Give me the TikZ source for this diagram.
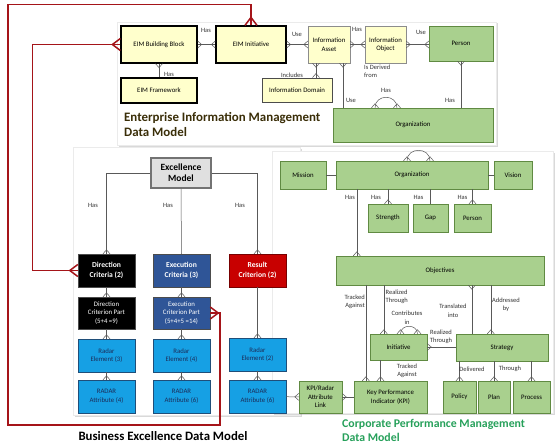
\documentclass[tikz,border=0pt]{standalone}
\usepackage{fontspec}
\setmainfont{Carlito}
\usetikzlibrary{arrows.meta,shadows}
\definecolor{cream}{RGB}{255,255,204}
\definecolor{grnfill}{RGB}{169,208,142}
\definecolor{grnline}{RGB}{96,138,66}
\definecolor{radarfill}{RGB}{22,160,228}
\definecolor{radarline}{RGB}{31,78,121}
\definecolor{navy}{RGB}{28,45,90}
\definecolor{exeblue}{RGB}{47,85,151}
\definecolor{resred}{RGB}{200,0,0}
\definecolor{linkred}{RGB}{165,20,25}
\definecolor{eimtitle}{RGB}{58,46,8}
\definecolor{cpmgreen}{RGB}{38,160,90}
% crow's foot tip
\pgfdeclarearrow{
  name = Crow,
  parameters = {\the\pgfarrowlength,\the\pgfarrowwidth},
  setup code = {
    \pgfarrowssettipend{0pt}
    \pgfarrowssetlineend{0pt}
    \pgfarrowssetbackend{-\pgfarrowlength}
    \pgfarrowshullpoint{0pt}{.5\pgfarrowwidth}
    \pgfarrowshullpoint{0pt}{-.5\pgfarrowwidth}
    \pgfarrowshullpoint{-\pgfarrowlength}{0pt}
    \pgfarrowssavethe\pgfarrowlength
    \pgfarrowssavethe\pgfarrowwidth
  },
  drawing code = {
    \pgfpathmoveto{\pgfqpoint{0pt}{.5\pgfarrowwidth}}
    \pgfpathlineto{\pgfqpoint{-\pgfarrowlength}{0pt}}
    \pgfpathlineto{\pgfqpoint{0pt}{-.5\pgfarrowwidth}}
    \pgfusepathqstroke
  },
  defaults = {length=4pt,width=7pt}
}
\tikzset{crow/.tip={Crow[length=4pt,width=7pt]},
  bigcrow/.tip={Crow[length=8pt,width=12pt]}}
\begin{document}
\begin{tikzpicture}[x=1pt,y=-1pt,font=\fontsize{6.8}{8.5}\selectfont]
        \tikzstyle{panel}=[fill=white,draw=black!8,drop shadow={shadow xshift=1.5pt,shadow yshift=-1.5pt,opacity=.3}]
        \tikzstyle{eim}=[rectangle,draw=black,line width=1.3pt,fill=cream,align=center]
        \tikzstyle{info}=[rectangle,draw=black!45,fill=cream,align=center]
        \tikzstyle{grn}=[rectangle,draw=grnline,fill=grnfill,align=center]
        \tikzstyle{crit}=[rectangle,draw=black!70,text=white,align=center,minimum width=57,minimum height=33,font=\bfseries\fontsize{7.6}{9.5}\selectfont]
        \tikzstyle{part}=[rectangle,draw=black!70,text=white,align=center,minimum width=57,minimum height=32,inner sep=1pt]
        \tikzstyle{radar}=[rectangle,draw=radarline,fill=radarfill,text=navy,align=center,minimum width=57,minimum height=33]
        \tikzstyle{lbl}=[font=\fontsize{6.5}{8.5}\selectfont,text=black!80,inner sep=0pt,align=center]
        \tikzstyle{rel}=[draw=black!65,line width=.5pt]
        \tikzstyle{redlink}=[draw=linkred,line width=1.5pt,bigcrow-bigcrow]
        \useasboundingbox (0,0) rectangle (560,444);
       \begin{scope}
         % panels
         \path[panel] (117,22) rectangle (496,145);
         \path[panel] (73,147) rectangle (300,415);
         \path[panel] (272,151) rectangle (553,413);
       \end{scope}
       \begin{scope}
         % enterprise information management
         \node [eim,minimum width=76,minimum height=37] (bb) at (159,44.5) {EIM Building Block};
         \node [eim,minimum width=70,minimum height=37] (ini) at (251,44.5) {EIM Initiative};
         \node [eim,minimum width=76,minimum height=25] (fw) at (159,90.5) {EIM Framework};
         \node [info,minimum width=42,minimum height=37,inner sep=1pt] (asset) at (329,44.5) {Information\\Asset};
         \node [info,minimum width=41,minimum height=37,inner sep=1pt] (obj) at (385.5,44.5) {Information\\Object};
         \node [grn,minimum width=64,minimum height=35] (per) at (461,43.5) {Person};
         \node [info,draw=black!70,line width=.9pt,minimum width=70,minimum height=24] (dom) at (297,90) {Information Domain};
         \node [grn,minimum width=160,minimum height=34] (org) at (413,125) {Organization};
         \draw[rel,crow-crow] (bb) -- (ini);
         \draw[rel,crow-crow] (ini) -- (asset);
         \draw[rel,crow-crow] (asset) -- (obj);
         \draw[rel,crow-crow] (obj.east) -- (obj.east -| per.west);
         \draw[rel,crow-] (bb) -- (fw);
         \draw[rel,crow-crow] ([xshift=-13pt]asset.south) -- ([xshift=-13pt]asset.south |- dom.north);
         \draw[rel,crow-] ([xshift=14pt]asset.south) -- ([xshift=14pt]asset.south |- org.north);
         \draw[rel,crow-] (per.south) -- (per.south |- org.north);
         \draw[rel,crow-crow] ([xshift=-38pt]org.north) .. controls +(0,-14) and +(0,-14) .. ([xshift=-16pt]org.north);
         \node [lbl] (h1) at (206,30) {Has};
         \node [lbl] (u1) at (297,34) {Use};
         \node [lbl] (h2) at (357,29) {Has};
         \node [lbl] (u2) at (421,32) {Use};
         \node [lbl] (h3) at (169,74) {Has};
         \node [lbl] (inc) at (292,75) {Includes};
         \node [lbl,anchor=west,align=left] (der) at (364,71.5) {Is Derived\\from};
         \node [lbl] (u3) at (351,100) {Use};
         \node [lbl] (h4) at (450,100) {Has};
         \node [lbl] (h5) at (386,90) {Has};
         \node [anchor=west,align=left,inner sep=0pt,text=eimtitle,font=\bfseries\fontsize{12.9}{15}\selectfont] (teim) at (124,124.5) {Enterprise Information Management\\Data Model};
       \end{scope}
       \begin{scope}
         % business excellence
         \node [rectangle,draw=black!55,line width=1.5pt,fill=black!12,align=center,minimum width=60,minimum height=30,inner sep=1pt,font=\bfseries\fontsize{9.5}{11}\selectfont] (exm) at (181,173) {Excellence\\Model};
         \node [crit,fill=black] (dir) at (106.5,270.5) {Direction\\Criteria (2)};
         \node [crit,fill=exeblue] (exe) at (181.5,270.5) {Execution\\Criteria (3)};
         \node [crit,fill=resred,draw=resred!60!black] (res) at (257.5,270.5) {Result\\Criterion (2)};
         \node [part,fill=black] (dpart) at (106.5,313) {Direction\\Criterion Part\\(5+4 =9)};
         \node [part,fill=exeblue] (epart) at (181.5,313) {Execution\\Criterion Part\\(5+4+5 =14)};
         \node [radar] (rel1) at (106.5,355.5) {Radar\\Element (3)};
         \node [radar] (rel2) at (181.5,355.5) {Radar\\Element (4)};
         \node [radar] (rel3) at (257.5,354.5) {Radar\\Element (2)};
         \node [radar] (rat1) at (106.5,396.5) {RADAR\\Attribute (4)};
         \node [radar] (rat2) at (181.5,396.5) {RADAR\\Attribute (6)};
         \node [radar] (rat3) at (257.5,396.5) {RADAR\\Attribute (6)};
         \node [grn,minimum width=43,minimum height=32,inner sep=1pt] (link) at (320.5,397) {KPI/Radar\\Attribute\\Link};
         \draw[rel,-crow] (exm.west) -| (dir.north);
         \draw[rel] (exm.south) -- (exe.north);
         \draw[rel,-crow] (exm.east) -| (res.north);
         \draw[rel,-crow] (dir) -- (dpart);
         \draw[rel,-crow] (exe) -- (epart);
         \draw[rel,-crow] (res) -- (rel3);
         \draw[rel,-crow] (dpart) -- (rel1);
         \draw[rel,-crow] (epart) -- (rel2);
         \draw[rel,-crow] (rel1) -- (rat1);
         \draw[rel,-crow] (rel2) -- (rat2);
         \draw[rel,-crow] (rel3) -- (rat3);
         \draw[rel,-crow] (rat3) -- (link);
         \node [lbl] (h6) at (93,205) {Has};
         \node [lbl] (h7) at (168,205) {Has};
         \node [lbl] (h8) at (240,205) {Has};
         \node [inner sep=0pt,font=\bfseries\fontsize{12.8}{14}\selectfont] (tbex) at (163,436) {Business Excellence Data Model};
       \end{scope}
       \begin{scope}
         % corporate performance management
         \node [grn,minimum width=46,minimum height=28] (mis) at (303,175) {Mission};
         \node [grn,minimum width=152,minimum height=28] (corg) at (412,175) {Organization};
         \node [grn,minimum width=38,minimum height=28] (vis) at (513,175) {Vision};
         \node [grn,minimum width=40,minimum height=28] (str) at (388,218) {Strength};
         \node [grn,minimum width=35,minimum height=28] (gap) at (430.5,218) {Gap};
         \node [grn,minimum width=37,minimum height=28] (cper) at (472.5,218) {Person};
         \node [grn,minimum width=208,minimum height=29] (objv) at (440,270.5) {Objectives};
         \node [grn,minimum width=57,minimum height=26] (cini) at (398.5,347) {Initiative};
         \node [grn,minimum width=92,minimum height=27] (stra) at (502,347.5) {Strategy};
         \node [grn,minimum width=73,minimum height=32,inner sep=1pt] (kpi) at (390.5,397) {Key Performance\\Indicator (KPI)};
         \node [grn,minimum width=33,minimum height=32] (pol) at (459.5,397) {Policy};
         \node [grn,minimum width=32,minimum height=32] (plan) at (494,397) {Plan};
         \node [grn,minimum width=37,minimum height=32,inner sep=1pt] (proc) at (531.5,397) {Process};
         \draw[rel,crow-] (link) -- (kpi);
         \draw[rel] (mis) -- (corg);
         \draw[rel] (corg) -- (vis);
         \draw[rel,crow-crow] ([xshift=-5pt]corg.north) .. controls +(0,-14) and +(0,-14) .. ([xshift=18pt]corg.north);
         \draw[rel,-crow] (corg.south -| str.north) -- (str.north);
         \draw[rel] (corg.south -| gap.north) -- (gap.north);
         \draw[rel,-crow] (corg.south -| cper.north) -- (cper.north);
         \draw[rel,-crow] ([xshift=21pt]corg.south west) -- ([xshift=21pt]objv.north west);
         \draw[rel,-crow] ([xshift=30pt]objv.south west) -- ([xshift=30pt]objv.south west |- kpi.north);
         \draw[rel,-crow] ([xshift=48pt]objv.south west) -- ([xshift=48pt]objv.south west |- cini.north);
         \draw[rel,crow-crow] ([xshift=2pt]cini.north) .. controls +(0,-10) and +(0,-10) .. ([xshift=19pt]cini.north);
         \draw[rel,crow-] (cini.east) -- (cini.east -| stra.west);
         \draw[rel,crow-] ([xshift=136pt]objv.south west) -- ([xshift=136pt]objv.south west |- stra.north);
         \draw[rel,-crow] ([xshift=155pt]objv.south west) -- ([xshift=155pt]objv.south west |- stra.north);
         \draw[rel,-crow] ([xshift=-18pt]cini.south) -- ([xshift=-18pt]cini.south |- kpi.north);
         \draw[rel,-crow] (stra.south -| pol.north) -- (pol.north);
         \draw[rel,-crow] (stra.south -| plan.north) -- (plan.north);
         \draw[rel,-crow] (stra.south -| proc.north) -- (proc.north);
         \node [lbl] (h9) at (350,197) {Has};
         \node [lbl] (h10) at (376,197) {Has};
         \node [lbl] (h11) at (418.5,197) {Has};
         \node [lbl] (h12) at (462.5,197) {Has};
         \node [lbl,anchor=east,align=right] (ta1) at (365,302) {Tracked\\Against};
         \node [lbl,anchor=west,align=left] (rt1) at (385.5,297) {Realized\\Through};
         \node [lbl] (ci) at (407,317.5) {Contributes\\in};
         \node [lbl] (rt2) at (441,337) {Realized\\Through};
         \node [lbl] (ti) at (453,311) {Translated\\into};
         \node [lbl] (ab) at (506,305) {Addressed\\by};
         \node [lbl] (ta2) at (407,371) {Tracked\\Against};
         \node [lbl] (dl) at (472,369) {Delivered};
         \node [lbl] (th) at (510,369) {Through};
         \node [anchor=west,align=left,inner sep=0pt,text=cpmgreen,font=\bfseries\fontsize{11.8}{14}\selectfont] (tcpm) at (342,430) {Corporate Performance Management\\Data Model};
       \end{scope}
       \begin{scope}
         % links between the models
         \draw[redlink] (ini.north) -- ++(0,-21) -| (8,425) -| (220,313) -- (epart.east);
         \draw[redlink] (bb.west) -- ++(-88,0) |- (dir.west);
       \end{scope}
      \end{tikzpicture}
\end{document}
